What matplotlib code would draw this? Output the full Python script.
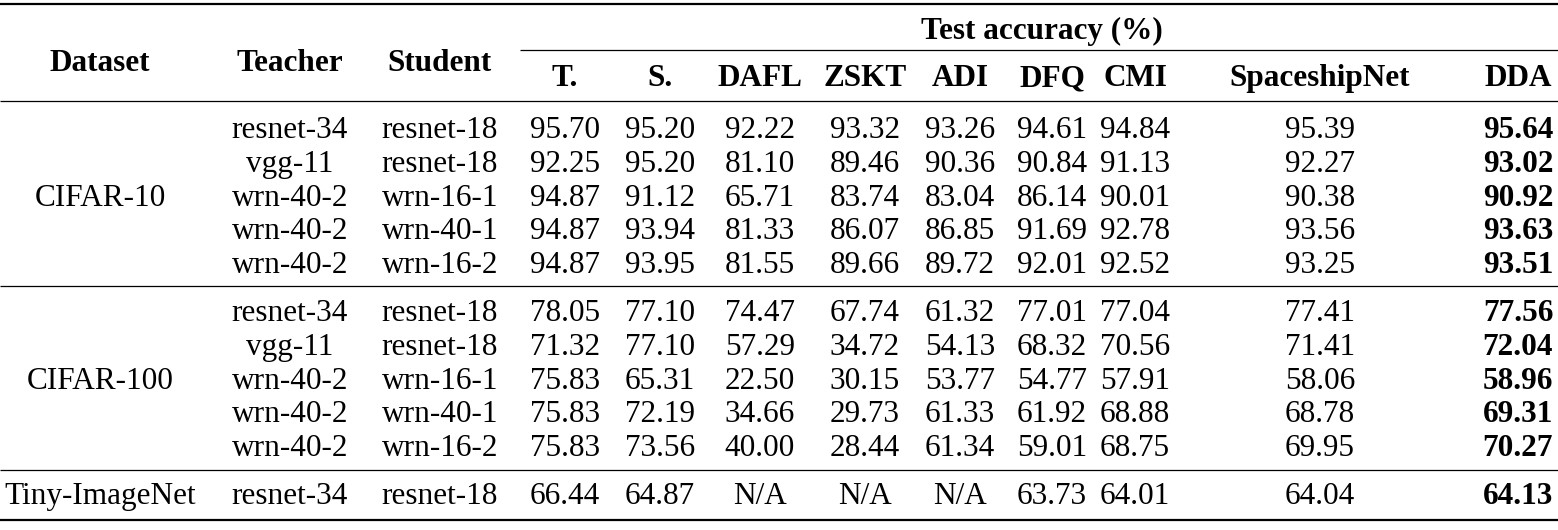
import matplotlib.pyplot as plt

datasets = ["CIFAR-10", "CIFAR-100", "Tiny-ImageNet"]
teachers = [["resnet-34", "vgg-11", "wrn-40-2", "wrn-40-2", "wrn-40-2"],
            ["resnet-34", "vgg-11", "wrn-40-2", "wrn-40-2", "wrn-40-2"],
            ["resnet-34"]]
students = [["resnet-18", "resnet-18", "wrn-16-1", "wrn-40-1", "wrn-16-2"],
            ["resnet-18", "resnet-18", "wrn-16-1", "wrn-40-1", "wrn-16-2"],
            ["resnet-18"]]
methods = ["T.", "S.", "DAFL", "ZSKT", "ADI", "DFQ", "CMI", "SpaceshipNet", "DDA"]
values = [
    [["95.70", "95.20", "92.22", "93.32", "93.26", "94.61", "94.84", "95.39", "95.64"],
     ["92.25", "95.20", "81.10", "89.46", "90.36", "90.84", "91.13", "92.27", "93.02"],
     ["94.87", "91.12", "65.71", "83.74", "83.04", "86.14", "90.01", "90.38", "90.92"],
     ["94.87", "93.94", "81.33", "86.07", "86.85", "91.69", "92.78", "93.56", "93.63"],
     ["94.87", "93.95", "81.55", "89.66", "89.72", "92.01", "92.52", "93.25", "93.51"]],
    [["78.05", "77.10", "74.47", "67.74", "61.32", "77.01", "77.04", "77.41", "77.56"],
     ["71.32", "77.10", "57.29", "34.72", "54.13", "68.32", "70.56", "71.41", "72.04"],
     ["75.83", "65.31", "22.50", "30.15", "53.77", "54.77", "57.91", "58.06", "58.96"],
     ["75.83", "72.19", "34.66", "29.73", "61.33", "61.92", "68.88", "68.78", "69.31"],
     ["75.83", "73.56", "40.00", "28.44", "61.34", "59.01", "68.75", "69.95", "70.27"]],
    [["66.44", "64.87", "N/A", "N/A", "N/A", "63.73", "64.01", "64.04", "64.13"]],
]

plt.rcParams['font.family'] = ['Liberation Serif', 'DejaVu Serif']
W, H = 1558, 530
fig = plt.figure(figsize=(W / 100, H / 100), dpi=100)
ax = fig.add_axes([0, 0, 1, 1])
ax.set_xlim(0, W)
ax.set_ylim(H, 0)
ax.axis('off')

fs = 22.5
col_x = [100, 290, 440]
meth_x = [565, 660, 760, 865, 960, 1052, 1135, 1320, 1518]

# header
ax.hlines(3.5, 0, W, color='black', lw=1.6)
for x, t in zip(col_x, ["Dataset", "Teacher", "Student"]):
    ax.text(x, 60, t, ha='center', va='center_baseline', fontsize=fs, fontweight='bold')
ax.text((meth_x[0] + meth_x[-1]) / 2, 28, "Test accuracy (%)", ha='center', va='center_baseline',
        fontsize=fs, fontweight='bold')
ax.hlines(50, 520, W, color='black', lw=0.9)
for x, m in zip(meth_x, methods):
    ax.text(x, 75, m, ha='center', va='center_baseline', fontsize=fs, fontweight='bold')
ax.hlines(101, 0, W, color='black', lw=0.9)

group_top = [127, 310, 493]
group_rules = [286, 470]
step = 33.8
for g, name in enumerate(datasets):
    rows = values[g]
    ys = [group_top[g] + i * step for i in range(len(rows))]
    ax.text(col_x[0], sum(ys) / len(ys), name, ha='center', va='center_baseline', fontsize=fs)
    for i, y in enumerate(ys):
        ax.text(col_x[1], y, teachers[g][i], ha='center', va='center_baseline', fontsize=fs)
        ax.text(col_x[2], y, students[g][i], ha='center', va='center_baseline', fontsize=fs)
        for j, v in enumerate(rows[i]):
            ax.text(meth_x[j], y, v, ha='center', va='center_baseline', fontsize=fs,
                    fontweight='bold' if j == len(methods) - 1 else 'normal')
for y in group_rules:
    ax.hlines(y, 0, W, color='black', lw=0.9)
ax.hlines(520, 0, W, color='black', lw=1.6)

fig.savefig("out.png", dpi=100)
